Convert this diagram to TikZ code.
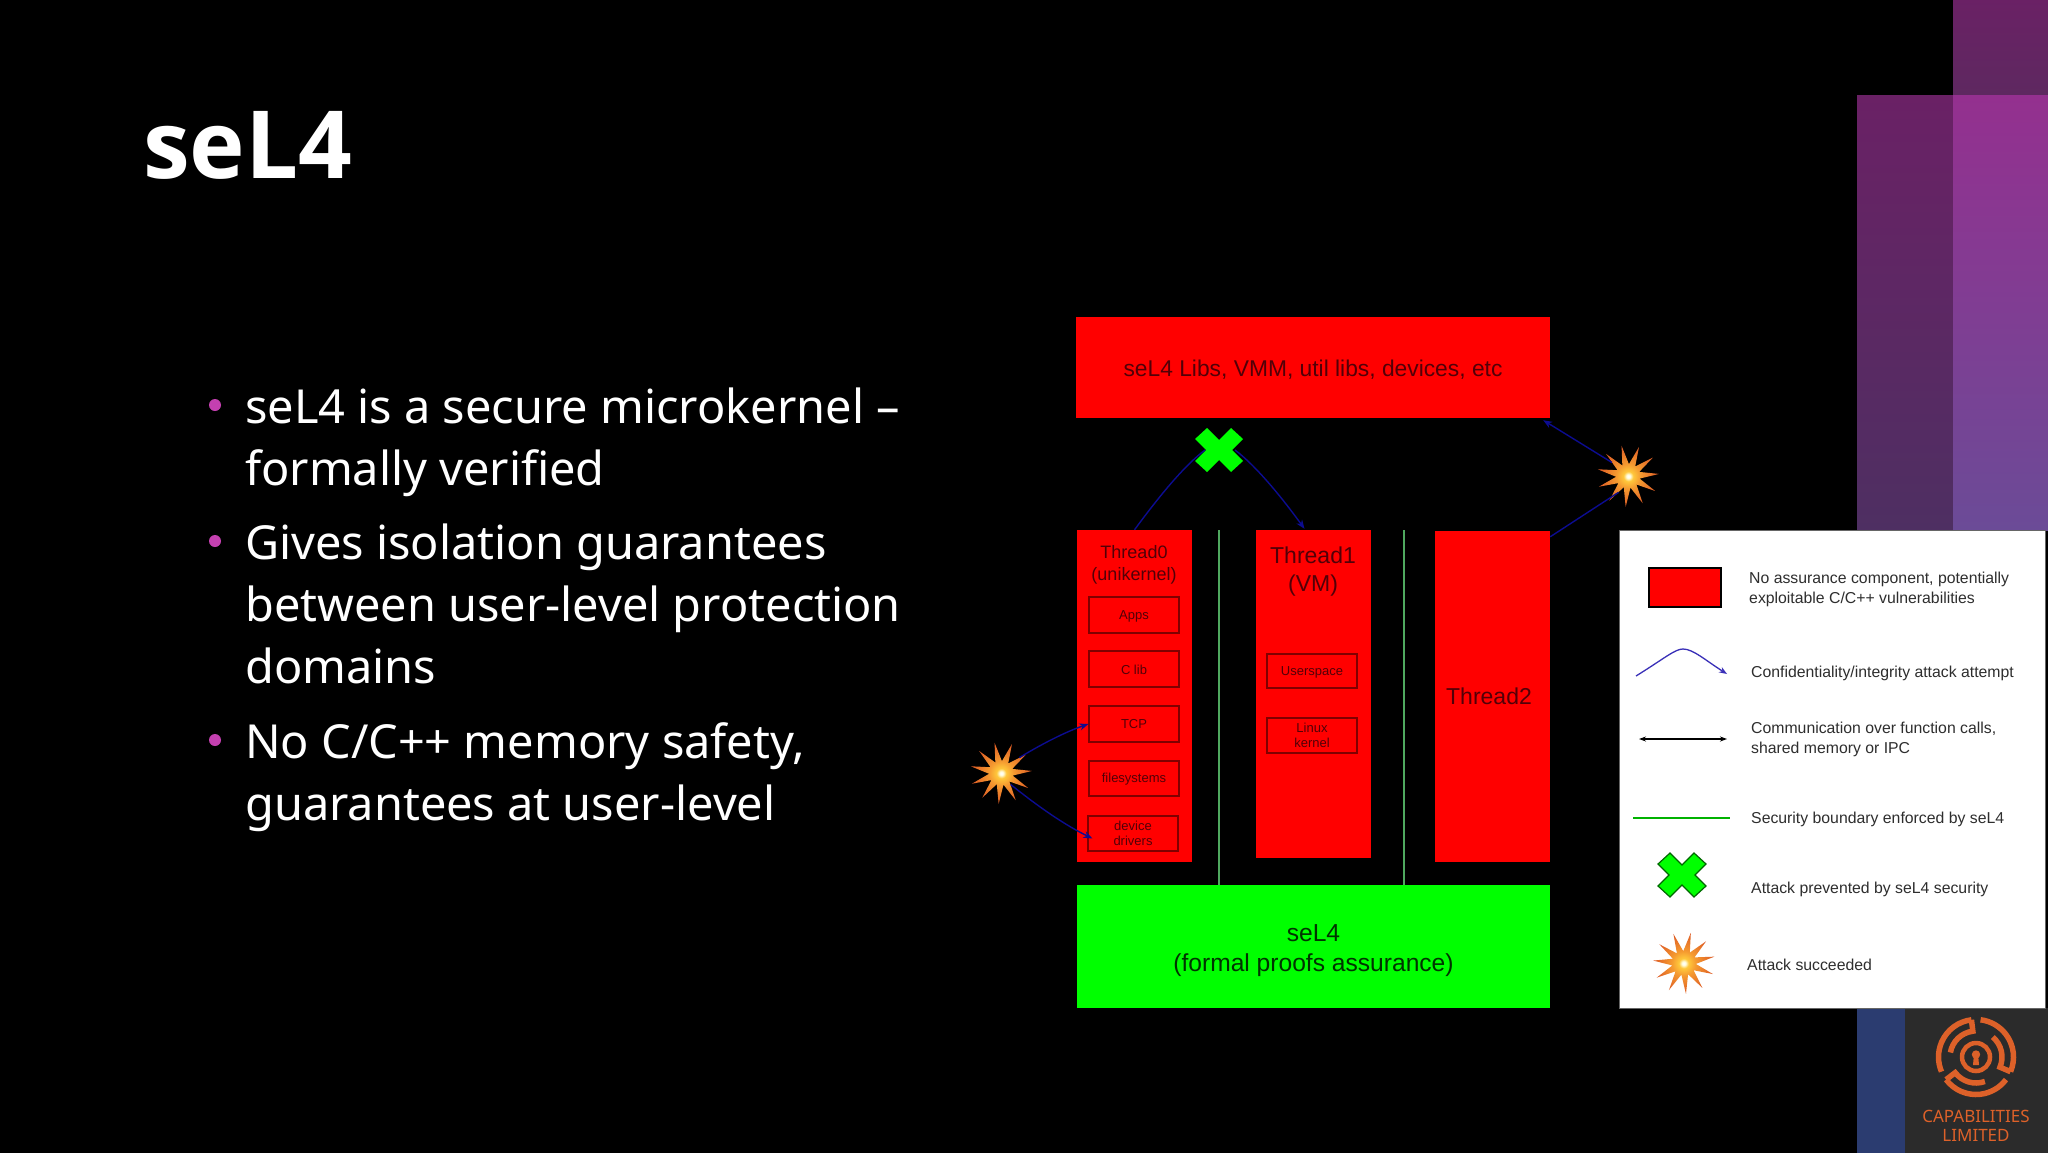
\documentclass[tikz,border=0pt]{standalone}
\usepackage{fontspec}
\setmainfont{Noto Sans}
\newfontfamily\arialf{Liberation Sans}
\newfontfamily\titlef{Open Sans}
\usetikzlibrary{shapes.geometric,arrows.meta,calc}
\definecolor{attack}{HTML}{0C0C90}
\definecolor{legattack}{HTML}{3A30B8}
\definecolor{boundary}{HTML}{4FA85F}
\definecolor{inktext}{HTML}{520008}
\definecolor{legtext}{HTML}{2E2E2E}
\definecolor{logoorange}{HTML}{DD6129}
\definecolor{barAt}{HTML}{6A2165}
\definecolor{barAb}{HTML}{5E2860}
\definecolor{barBb}{HTML}{4E2F62}
\definecolor{barCt}{HTML}{94308F}
\definecolor{barCb}{HTML}{6B4B97}
\definecolor{barblue}{HTML}{2B3C70}
\definecolor{logobg}{HTML}{2B2B2B}
\definecolor{bulletc}{HTML}{C440B0}
\definecolor{bA}{HTML}{FFFDE0}
\definecolor{bB}{HTML}{FFC83C}
\definecolor{bC}{HTML}{F59A30}
\definecolor{bD}{HTML}{DD5A24}
\pgfdeclareradialshading{burst}{\pgfpointorigin}{
  color(0bp)=(white);
  color(1.5bp)=(bA);
  color(4bp)=(bB);
  color(10bp)=(bC);
  color(25bp)=(bD);
  color(50bp)=(bD)}
\tikzset{
  x=1pt,y=-1pt,
  redbox/.style={fill=red,inner sep=0pt,font=\arialf\color{inktext}\fontsize{23}{28}\selectfont,align=center},
  subbox/.style={draw=black!50!red,line width=1.2pt,fill=red,inner sep=0pt,minimum width=90pt,
     font=\arialf\color{inktext}\fontsize{13}{15.5}\selectfont,align=center},
  attackline/.style={draw=attack,line width=1.4pt,-{Stealth[length=9pt,width=7pt]}},
  attackplain/.style={draw=attack,line width=1.4pt},
  boundaryline/.style={draw=boundary,line width=1.1pt},
  legendtext/.style={anchor=west,inner sep=0pt,align=left,font=\arialf\color{legtext}\fontsize{15.8}{19.2}\selectfont},
  body/.style={anchor=north west,inner sep=0pt,align=left,text=white,font=\fontsize{46.9}{61.7}\selectfont},
  bulletdot/.style={circle,fill=bulletc,minimum size=12pt,inner sep=0pt},
  burstnode/.style={star,star points=11,star point ratio=2.6,shading=burst,minimum size=#1,inner sep=0pt},
  xmark/.pic={
    \path[pic actions] (-12,-22)--(0,-10)--(12,-22)--(24,-11)--(13,0)--(24,11)--(12,22)--(0,10)--(-12,22)--(-24,11)--(-13,0)--(-24,-11)--cycle;
  },
}
\begin{document}
\begin{tikzpicture}
\useasboundingbox (0,0) rectangle (2048,1152);
\fill[black] (-2,-2) rectangle (2050,1154);
% decorative bars
\shade[top color=barAt,bottom color=barAb] (1953,-2) rectangle (2050,95);
\shade[top color=barAt,bottom color=barBb] (1857,95) rectangle (1953,530);
\shade[top color=barCt,bottom color=barCb] (1953,95) rectangle (2050,530);
\fill[barblue] (1857,1008) rectangle (1905,1154);
\fill[logobg] (1905,1008) rectangle (2050,1154);
% title and body
\node[anchor=base west,inner sep=0pt,text=white,font=\titlef\bfseries\fontsize{94}{100}\selectfont] (title) at (143,178) {seL4};
\node[bulletdot] (b1) at (215,405) {};
\node[bulletdot] (b2) at (215,541) {};
\node[bulletdot] (b3) at (215,740) {};
\node[body] (p1) at (245,388) {seL4 is a secure microkernel –\\formally verified};
\node[body] (p2) at (245,524) {Gives isolation guarantees\\between user-level protection\\domains};
\node[body] (p3) at (245,722.5) {No C/C++ memory safety,\\guarantees at user-level};
% diagram
\node[redbox,minimum width=474pt,minimum height=101pt,text height=21pt] (libs) at (1313,367.5) {\fontsize{22.8}{27}\selectfont seL4 Libs, VMM, util libs, devices, etc};
\node[redbox,minimum width=115pt,minimum height=332pt] (t0) at (1134.5,696) {};
\node[redbox,minimum width=115pt,minimum height=328pt] (t1) at (1313.5,694) {};
\node[redbox,minimum width=115pt,minimum height=331pt] (t2) at (1492.5,696.5) {\hspace*{-7pt}Thread2};
\node[fill=green,inner sep=0pt,minimum width=473pt,minimum height=123pt] (sel) at (1313.5,946.5) {};
\node[inner sep=0pt,align=center,font=\arialf\color{black!80!green}\fontsize{24.6}{29.5}\selectfont] (sell) at (1313.5,950.5) {seL4\\(formal proofs assurance)};
\node[inner sep=0pt,align=center,font=\arialf\color{inktext}\fontsize{18}{22}\selectfont] (t0l) at (1134,565) {Thread0\\(unikernel)};
\node[inner sep=0pt,align=center,font=\arialf\color{inktext}\fontsize{23}{28}\selectfont] (t1l) at (1313,572) {Thread1\\(VM)};
\node[subbox,minimum height=36pt,text height=11pt] (apps) at (1134,615) {Apps};
\node[subbox,minimum height=36pt,text height=11pt] (clib) at (1134,669) {C lib};
\node[subbox,minimum height=36pt] (tcp) at (1134,724) {TCP};
\node[subbox,minimum height=35pt,text height=11pt] (fs) at (1134,778.5) {filesystems};
\node[subbox,minimum height=35pt] (dd) at (1133,833.5) {device\\drivers};
\node[subbox,minimum height=34pt,text height=11pt] (us) at (1312,671) {Userspace};
\node[subbox,minimum height=35pt] (lk) at (1312,735.5) {Linux\\kernel};
\coordinate (bt1) at (1219,530);
\coordinate (bb1) at (1219,885);
\coordinate (bt2) at (1404,530);
\coordinate (bb2) at (1404,885);
\draw[boundaryline] (bt1) -- (bb1);
\draw[boundaryline] (bt2) -- (bb2);
% attack marks
\coordinate (xa) at (1219,450);
\pic[fill=green] at (xa) {xmark};
\node[burstnode=62pt,shape border rotate=12] (s1) at (1001,773) {};
\node[burstnode=62pt,shape border rotate=12] (s2) at (1628,476) {};
\draw[attackplain] (t0.north) .. controls (1160,495) and (1185,465) .. ($(xa)+(-14,0)$);
\draw[attackline] ($(xa)+(16,0)$) .. controls (1255,465) and (1280,495) .. ($(t1.north)+(-9,-1)$);
\draw[attackline] (s1.40) .. controls (1040,745) and (1065,732) .. (tcp.west);
\draw[attackline] (s1.-50) .. controls (1040,808) and (1065,825) .. ($(dd.west)+(5,5)$);
\draw[attackline] (s2.140) -- ($(libs.south east)+(-7,2)$);
\draw[attackplain] (s2.-120) -- ($(t2.north east)+(0,6)$);
% legend
\node[fill=white,draw=black!60,line width=.6pt,inner sep=0pt,minimum width=426pt,minimum height=478pt] (leg) at (1832,769) {};
\node[draw=black,line width=1.2pt,fill=red,minimum width=72pt,minimum height=39pt,inner sep=0pt] (lr) at (1685,587.5) {};
\node[legendtext] (lt1) at (1749,589.5) {No assurance component, potentially\\exploitable C/C++ vulnerabilities};
\coordinate (lc0) at (1636,676);
\coordinate (lc1) at (1727,674);
\draw[draw=legattack,line width=1.3pt,-{Stealth[length=8pt,width=6pt]}] (lc0) .. controls (1665,658) and (1675,649) .. (1683,649) .. controls (1693,649) and (1705,660) .. (lc1);
\node[legendtext] (lt2) at (1751,673) {Confidentiality/integrity attack attempt};
\coordinate (la0) at (1639,739);
\coordinate (la1) at (1727,739);
\draw[black,line width=1.1pt,{Stealth[length=7pt,width=5pt]}-{Stealth[length=7pt,width=5pt]}] (la0) -- (la1);
\node[legendtext] (lt3) at (1751,739.5) {Communication over function calls,\\shared memory or IPC};
\coordinate (lg0) at (1633,818);
\coordinate (lg1) at (1730,818);
\draw[draw=green!70!black,line width=1.2pt] (lg0) -- (lg1);
\node[legendtext] (lt4) at (1751,819) {Security boundary enforced by seL4};
\coordinate (lx) at (1682,875);
\pic[fill=green,draw=black!60!green,line width=1.2pt] at (lx) {xmark};
\node[legendtext] (lt5) at (1751,889.5) {Attack prevented by seL4 security};
\node[burstnode=62pt,shape border rotate=20] (ls) at (1684,963) {};
\node[legendtext] (lt6) at (1747,965) {Attack succeeded};
% logo
\begin{scope}[shift={(1976,1057)},y=1pt,line width=5.5pt,draw=logoorange]
  \foreach \r in {0,120,240}{
    \begin{scope}[rotate=\r]
      \draw (97:37.5) arc[start angle=97,end angle=203,radius=37.5];
      \draw (97:37.5) -- (97:26) arc[start angle=97,end angle=170,radius=26];
    \end{scope}
  }
  \draw[line width=4.5pt] (0,0) circle[radius=14];
  \fill[logoorange] (0,2.5) circle[radius=4.2];
  \fill[logoorange] (-2.2,1) -- (2.2,1) -- (3,-8) -- (-3,-8) -- cycle;
\end{scope}
\node[inner sep=0pt,align=center,text=logoorange,font=\fontsize{17}{19}\selectfont] (logot) at (1976,1125.5) {CAPABILITIES\\LIMITED};
\end{tikzpicture}
\end{document}
